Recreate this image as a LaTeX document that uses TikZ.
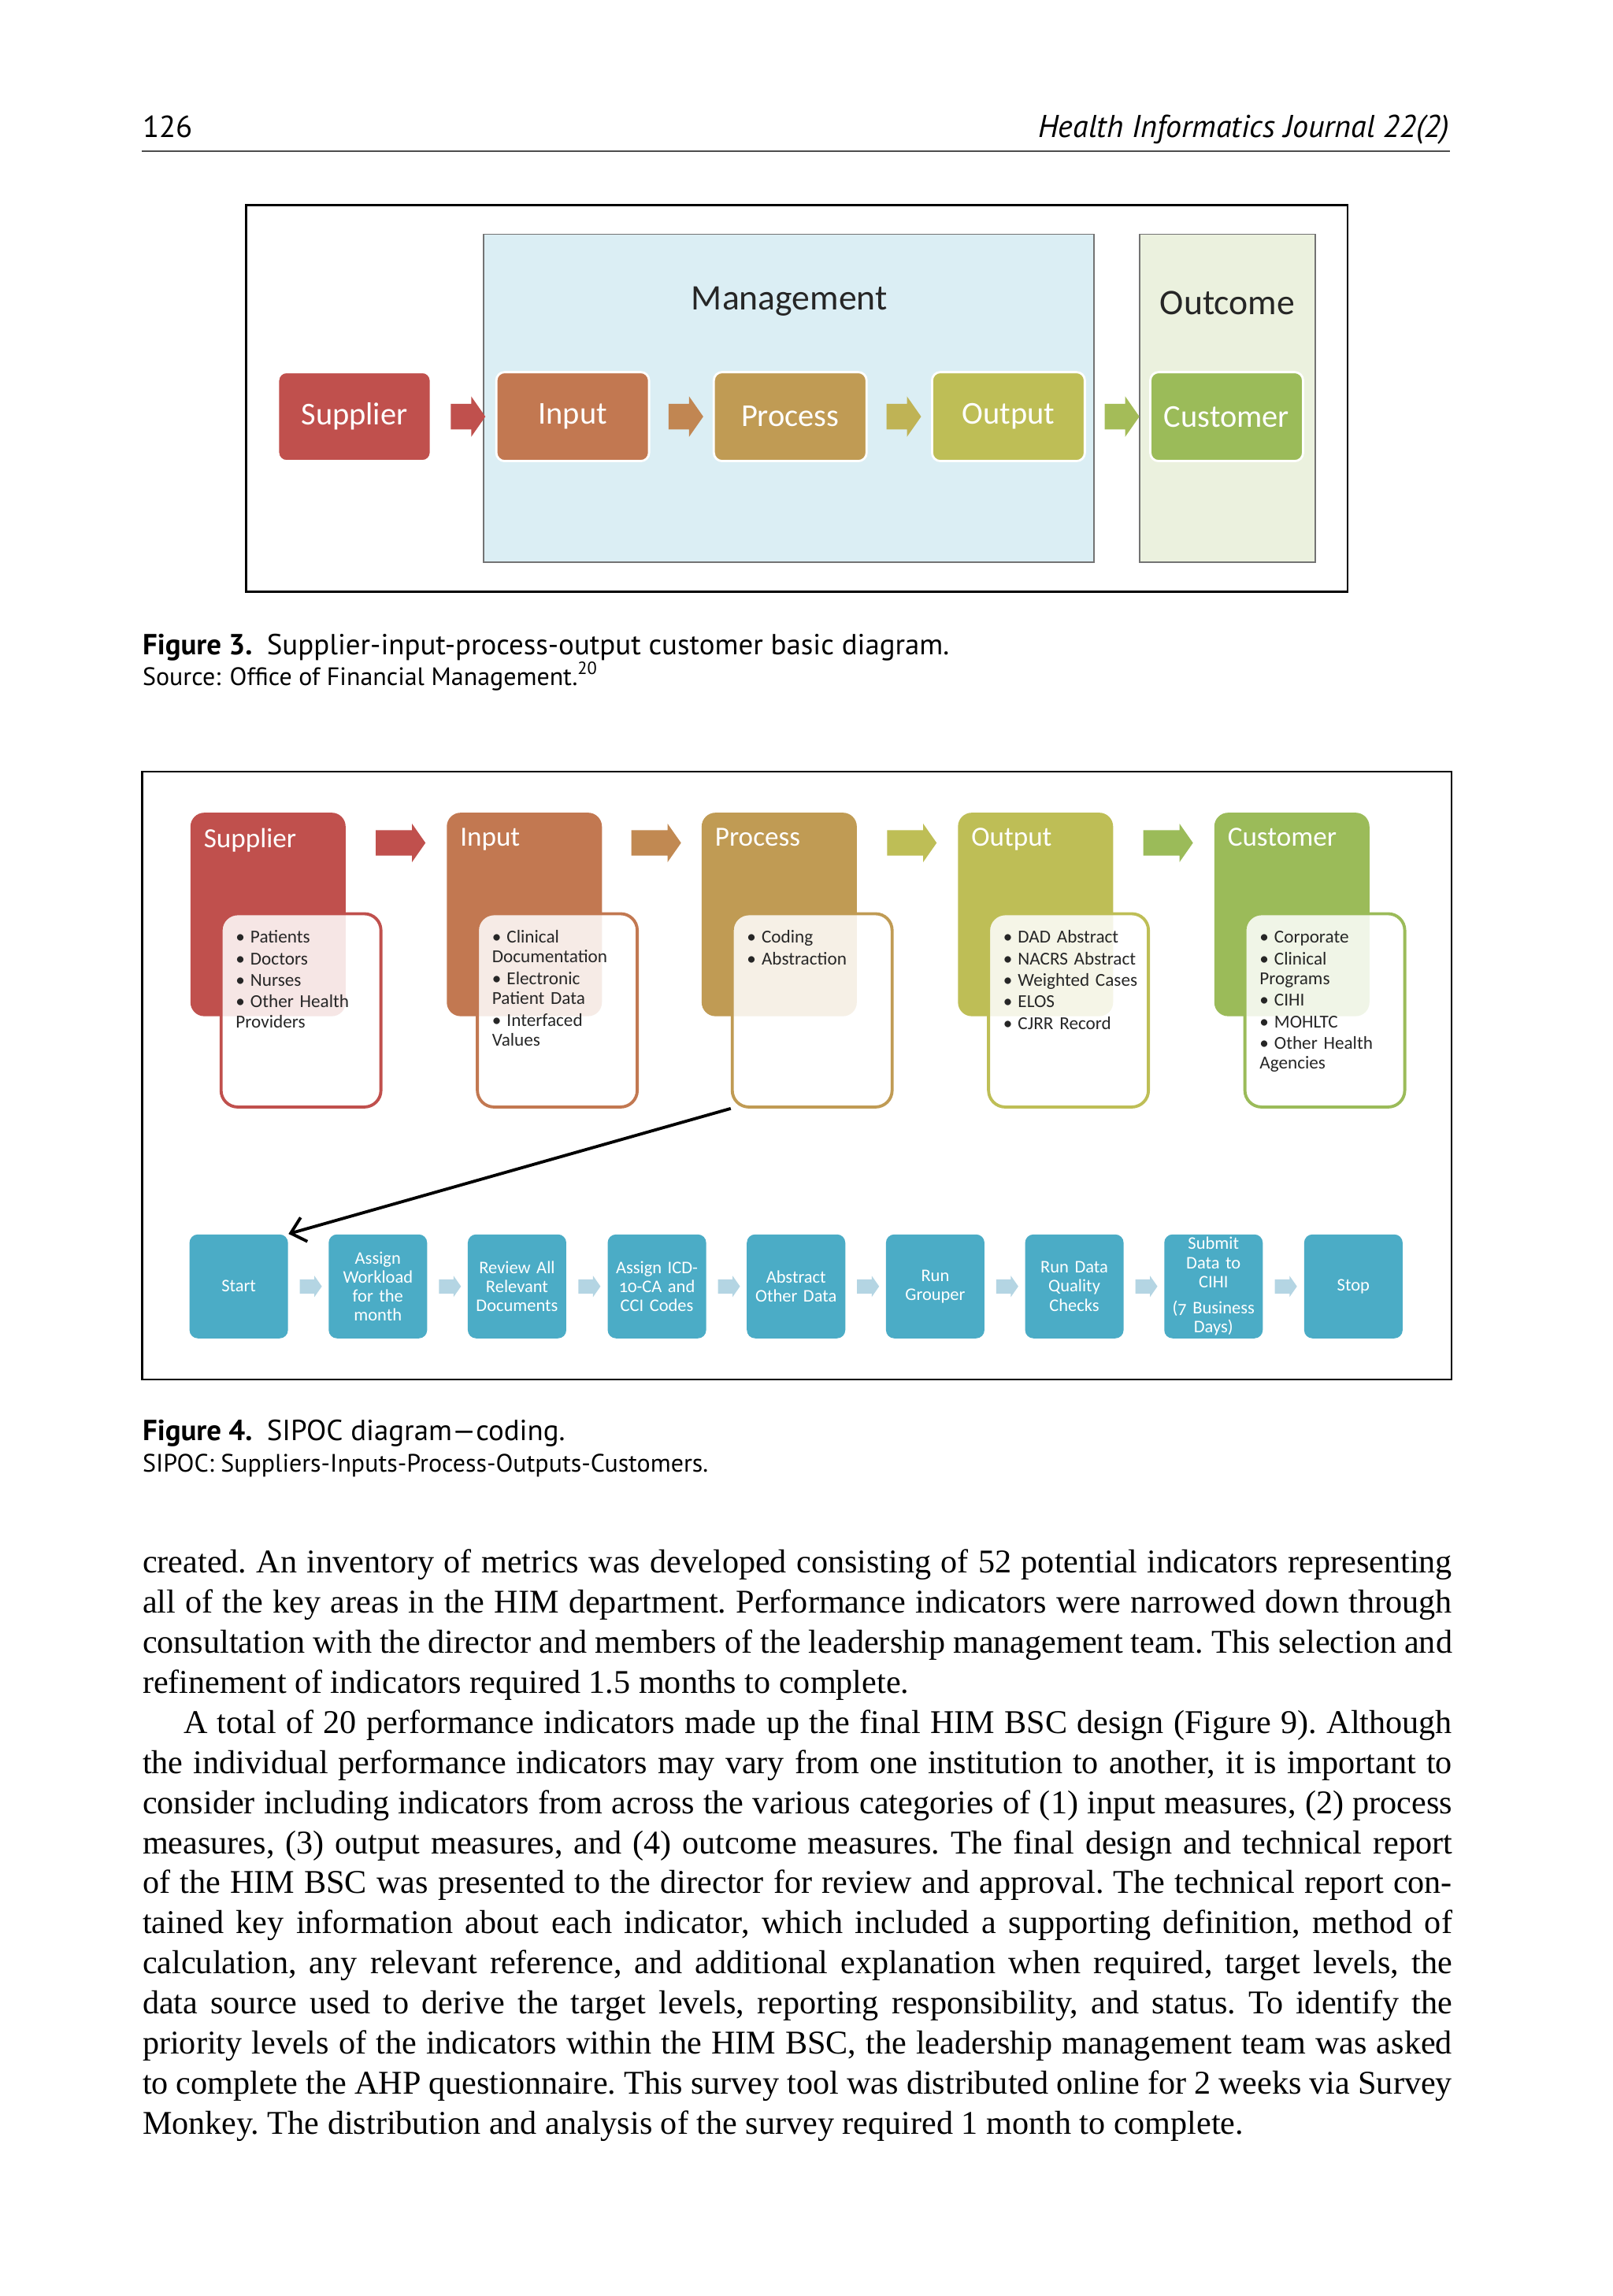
\documentclass[tikz,border=0pt]{standalone}
\usepackage{fontspec}
\setmainfont{Liberation Serif}
\newfontfamily\boxfont{Carlito}
\newfontfamily\stepfont{Carlito}[Numbers=OldStyle]
\newfontfamily\capfont{PT Sans}
\usetikzlibrary{arrows.meta,calc,shapes.arrows,positioning}

\definecolor{supred}{HTML}{C0504D}
\definecolor{inporange}{HTML}{C27851}
\definecolor{procgold}{HTML}{C09B54}
\definecolor{outolive}{HTML}{BEBE56}
\definecolor{custgreen}{HTML}{9BBB59}
\definecolor{mgmtblue}{HTML}{DBEEF4}
\definecolor{outcbg}{HTML}{EBF1DE}
\definecolor{stepteal}{HTML}{4BACC6}
\definecolor{stepgrey}{HTML}{B4D5E3}

\newcommand{\bul}{\par\vskip0.6pt\hangindent=0.8em\hangafter=1\noindent\makebox[0.8em][l]{\textbullet}}

\tikzset{
  headtext/.style={inner sep=0pt, font=\capfont\fontsize{11}{13}\selectfont},
  captext/.style={anchor=base west, inner sep=0pt, font=\capfont\fontsize{10.5}{12}\selectfont},
  srctext/.style={anchor=base west, inner sep=0pt, font=\capfont\fontsize{9.1}{10}\selectfont},
  regionbox/.style={draw=black!55, line width=0.5pt, minimum height=4.166cm, inner sep=0pt},
  regiontitle/.style={inner sep=0pt, text=black!85, font=\boxfont\fontsize{13}{15}\selectfont},
  sipbox/.style={draw=white, line width=0.8pt, rounded corners=3pt, minimum width=1.94cm,
    minimum height=1.13cm, inner sep=0pt, text=white, font=\boxfont\fontsize{11.5}{13}\selectfont},
  flowarrow/.style={single arrow, draw=none, minimum height=0.44cm, inner xsep=0pt,
    inner ysep=0.155cm, single arrow head extend=0.095cm, single arrow tip angle=110},
  bigarrow/.style={flowarrow, minimum height=0.63cm, single arrow head extend=0.083cm},
  headbox/.style={rounded corners=5pt, minimum width=1.97cm, minimum height=2.585cm, inner sep=0pt},
  headtitle/.style={anchor=north west, inner sep=0pt, text=white, font=\boxfont\fontsize{10}{12}\selectfont},
  listbox/.style={rounded corners=6pt, fill=white, fill opacity=0.86, line width=1.1pt,
    minimum width=2.03cm, minimum height=2.455cm, inner sep=0pt},
  listtext/.style={anchor=north west, inner sep=0pt, text width=1.85cm, align=left,
    text=black!85, font=\boxfont\fontsize{6.6}{7.2}\selectfont},
  stepbox/.style={fill=stepteal, rounded corners=3pt, minimum width=1.228cm, minimum height=1.32cm,
    inner xsep=1pt, inner ysep=0pt, text width=1.18cm, align=center, text=white,
    font=\stepfont\fontsize{6.4}{6.9}\selectfont},
  steparrow/.style={single arrow, draw=none, fill=stepgrey, minimum height=0.28cm, inner xsep=0pt,
    inner ysep=0.083cm, single arrow head extend=0.045cm, single arrow tip angle=110}
}

\begin{document}
\begin{tikzpicture}[x=0.0186cm, y=-0.0186cm]
\fill[white] (0,0) rectangle (1101,1568);
\useasboundingbox (0,0) rectangle (1101,1568);

% running head
\node[headtext, anchor=base west] (pageno) at (97,94) {126};
\node[headtext, anchor=base east, font=\capfont\itshape\fontsize{11.4}{13}\selectfont] (journal) at (990,94) {Health Informatics Journal 22(2)};
\draw[line width=0.6pt, black!70] (97,103) -- (990,103);

% Figure 3
\draw[line width=0.7pt] (168,140) rectangle (920,404);
\node[regionbox, fill=mgmtblue, minimum width=7.756cm] (mgmt) at (538.5,272) {};
\node[regionbox, fill=outcbg, minimum width=2.232cm] (outc) at (838,272) {};
\node[regiontitle] (mgmttitle) at (539,206) {Management};
\node[regiontitle] (outctitle) at (838,207) {Outcome};

\node[sipbox, fill=supred]    (sup) at (242,284.5)   {Supplier};
\node[sipbox, fill=inporange] (inp) at (391,284.5)   {Input};
\node[sipbox, fill=procgold]  (pro) at (539.5,284.5) {Process};
\node[sipbox, fill=outolive]  (out) at (688.5,284.5) {Output};
\node[sipbox, fill=custgreen] (cus) at (837.5,284.5) {Customer};

\node[flowarrow, fill=supred]                 (a1) at ($(sup.east)!0.5!(inp.west)$) {};
\node[flowarrow, fill=inporange!60!procgold]  (a2) at ($(inp.east)!0.5!(pro.west)$) {};
\node[flowarrow, fill=procgold!30!outolive]   (a3) at ($(pro.east)!0.5!(out.west)$) {};
\node[flowarrow, fill=outolive!25!custgreen]  (a4) at ($(out.east)!0.5!(cus.west)$) {};

\node[captext] (cap3) at (97,447) {\textbf{Figure 3.}\enspace Supplier-input-process-output customer basic diagram.};
\node[srctext] (src3) at (97,468) {Source: Office of Financial Management.\textsuperscript{20}};

% Figure 4
\draw[line width=0.7pt] (97,527) rectangle (991,942);

\node[headbox, fill=supred]    (sup4) at (183,624.5) {};
\node[headbox, fill=inporange] (inp4) at (358,624.5) {};
\node[headbox, fill=procgold]  (pro4) at (532,624.5) {};
\node[headbox, fill=outolive]  (out4) at (707,624.5) {};
\node[headbox, fill=custgreen] (cus4) at (882,624.5) {};

\node[headtitle] at ([shift={(0.17cm,-0.2cm)}]sup4.north west) {Supplier};
\node[headtitle] at ([shift={(0.17cm,-0.2cm)}]inp4.north west) {Input};
\node[headtitle] at ([shift={(0.17cm,-0.2cm)}]pro4.north west) {Process};
\node[headtitle] at ([shift={(0.17cm,-0.2cm)}]out4.north west) {Output};
\node[headtitle] at ([shift={(0.17cm,-0.2cm)}]cus4.north west) {Customer};

\node[bigarrow, fill=supred]                (b1) at ($(sup4.north east)!0.5!(inp4.north west)+(0,21)$) {};
\node[bigarrow, fill=inporange!50!procgold] (b2) at ($(inp4.north east)!0.5!(pro4.north west)+(0,21)$) {};
\node[bigarrow, fill=outolive]              (b3) at ($(pro4.north east)!0.5!(out4.north west)+(0,21)$) {};
\node[bigarrow, fill=custgreen]             (b4) at ($(out4.north east)!0.5!(cus4.north west)+(0,21)$) {};

\node[listbox, draw=supred]    (supd) at (205.5,690) {};
\node[listbox, draw=inporange] (inpd) at (380.5,690) {};
\node[listbox, draw=procgold]  (prod) at (554.5,690) {};
\node[listbox, draw=outolive]  (outd) at (729.5,690) {};
\node[listbox, draw=custgreen] (cusd) at (904.5,690) {};

\node[listtext] at ([shift={(0.2cm,-0.11cm)}]supd.north west)
  {\bul Patients\bul Doctors\bul Nurses\bul Other Health\\Providers};
\node[listtext] at ([shift={(0.2cm,-0.11cm)}]inpd.north west)
  {\bul Clinical\\Documentation\bul Electronic\\Patient Data\bul Interfaced\\Values};
\node[listtext] at ([shift={(0.2cm,-0.11cm)}]prod.north west)
  {\bul Coding\bul Abstraction};
\node[listtext] at ([shift={(0.2cm,-0.11cm)}]outd.north west)
  {\bul DAD Abstract\bul NACRS Abstract\bul Weighted Cases\bul ELOS\bul CJRR Record};
\node[listtext] at ([shift={(0.2cm,-0.11cm)}]cusd.north west)
  {\bul Corporate\bul Clinical\\Programs\bul CIHI\bul MOHLTC\bul Other Health\\Agencies};

\node[stepbox] (s1) at (163,878.5)   {Start};
\node[stepbox] (s2) at (258,878.5)   {Assign\\Workload\\for the\\month};
\node[stepbox] (s3) at (353,878.5)   {Review All\\Relevant\\Documents};
\node[stepbox] (s4) at (448.5,878.5) {Assign ICD-\\10-CA and\\CCI Codes};
\node[stepbox] (s5) at (543.5,878.5) {Abstract\\Other Data};
\node[stepbox] (s6) at (638.5,878.5) {Run\\Grouper};
\node[stepbox] (s7) at (733.5,878.5) {Run Data\\Quality\\Checks};
\node[stepbox] (s8) at (828.5,878.5) {Submit\\Data to\\CIHI\\[2.5pt](7 Business\\Days)};
\node[stepbox] (s9) at (924,878.5)   {Stop};

\node[steparrow] at ($(s1.east)!0.5!(s2.west)$) {};
\node[steparrow] at ($(s2.east)!0.5!(s3.west)$) {};
\node[steparrow] at ($(s3.east)!0.5!(s4.west)$) {};
\node[steparrow] at ($(s4.east)!0.5!(s5.west)$) {};
\node[steparrow] at ($(s5.east)!0.5!(s6.west)$) {};
\node[steparrow] at ($(s6.east)!0.5!(s7.west)$) {};
\node[steparrow] at ($(s7.east)!0.5!(s8.west)$) {};
\node[steparrow] at ($(s8.east)!0.5!(s9.west)$) {};

\draw[line width=1.1pt, -{Straight Barb[length=5pt,width=9pt]}] (prod.south west) -- (s1.north east);

\node[captext] (cap4) at (97,984) {\textbf{Figure 4.}\enspace SIPOC diagram—coding.};
\node[srctext] (src4) at (97,1005) {SIPOC: Suppliers-Inputs-Process-Outputs-Customers.};

% body text
\node[anchor=base west, inner sep=0pt, text width=16.63cm, align=justify,
  font=\fontsize{12}{14.5}\selectfont] (body) at (97,1074) {\frenchspacing\tolerance=1000
created. An inventory of metrics was developed consisting of 52 potential indicators representing\linebreak
all of the key areas in the HIM department. Performance indicators were narrowed down through\linebreak
consultation with the director and members of the leadership management team. This selection and\linebreak
refinement of indicators required 1.5 months to complete.\par
\hspace*{14.8pt}A total of 20 performance indicators made up the final HIM BSC design (Figure 9). Although\linebreak
the individual performance indicators may vary from one institution to another, it is important to\linebreak
consider including indicators from across the various categories of (1) input measures, (2) process\linebreak
measures, (3) output measures, and (4) outcome measures. The final design and technical report\linebreak
of the HIM BSC was presented to the director for review and approval. The technical report con-\linebreak
tained key information about each indicator, which included a supporting definition, method of\linebreak
calculation, any relevant reference, and additional explanation when required, target levels, the\linebreak
data source used to derive the target levels, reporting responsibility, and status. To identify the\linebreak
priority levels of the indicators within the HIM BSC, the leadership management team was asked\linebreak
to complete the AHP questionnaire. This survey tool was distributed online for 2 weeks via Survey\linebreak
Monkey. The distribution and analysis of the survey required 1 month to complete.};
\end{tikzpicture}
\end{document}
